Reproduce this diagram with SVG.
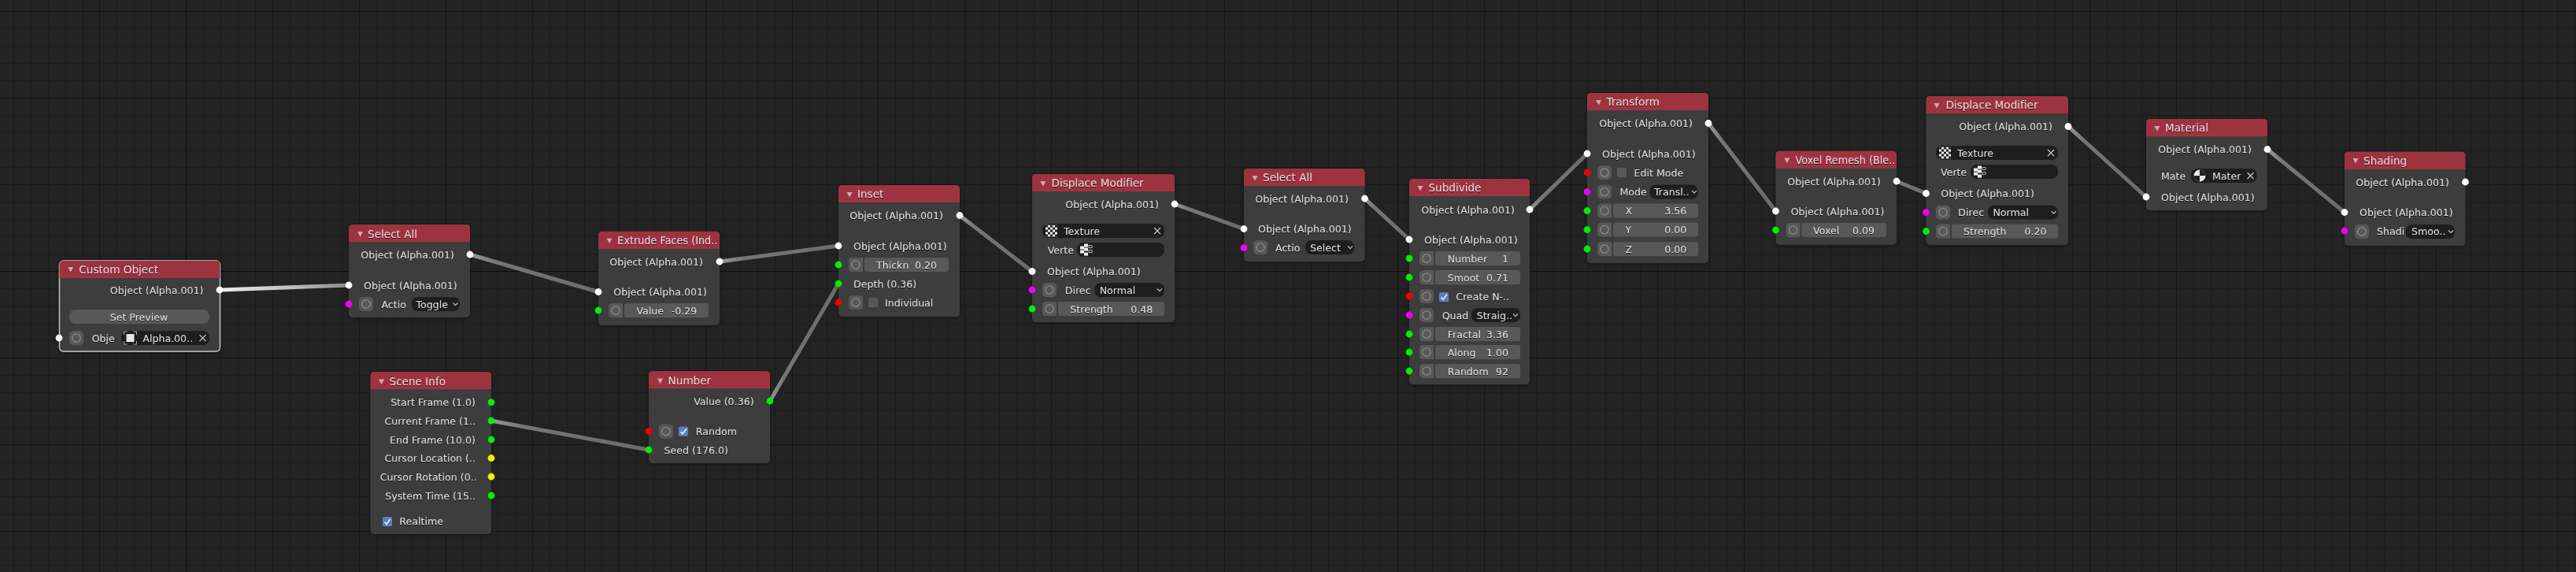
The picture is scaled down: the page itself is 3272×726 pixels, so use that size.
<svg xmlns="http://www.w3.org/2000/svg" width="3272" height="726" viewBox="0 0 3272 726">
<style>
text{font-family:"DejaVu Sans",sans-serif;font-size:12.6px;fill:#d8d8d8}
.t{filter:url(#ts)}
.e{text-anchor:end}
.m{text-anchor:middle}
.ti{font-size:13.6px;fill:#e2d0d2}
.b{fill:#3e3e3e;filter:url(#ns)}
.sel{stroke:#c4c4c4;stroke-width:1.4}
.h{fill:#9e3340}
.f{fill:#585858}
.d{fill:#1e1e1e}
.w{fill:#fff}.g{fill:#00f000}.r{fill:#f00000}.p{fill:#f000f0}.y{fill:#f0f000}
.ch{fill:none;stroke:#c0c0c0;stroke-width:1.1}
.l{fill:none;stroke-width:5;stroke:url(#lg)}
</style>
<defs>
<filter id="ts" x="-10%" y="-30%" width="120%" height="170%"><feDropShadow dx="0" dy="1" stdDeviation="0.7" flood-color="#000" flood-opacity="0.75"/></filter>
<filter id="ns" x="-10%" y="-10%" width="120%" height="120%"><feDropShadow dx="0" dy="1" stdDeviation="2.5" flood-color="#000" flood-opacity="0.45"/></filter>
<filter id="lb" filterUnits="userSpaceOnUse" x="0" y="0" width="3272" height="726"><feGaussianBlur stdDeviation="0.5"/></filter>
<pattern id="va" patternUnits="userSpaceOnUse" x="16" y="0" width="110" height="22"><rect width="1" height="22" fill="#161616"/><path d="M22 0h1v22h-1zM44 0h1v22h-1zM66 0h1v22h-1zM88 0h1v22h-1z" fill="#1c1c1c"/></pattern>
<pattern id="vb" patternUnits="userSpaceOnUse" x="15" y="0" width="110" height="22"><rect width="1" height="22" fill="#161616"/><path d="M22 0h1v22h-1zM44 0h1v22h-1zM66 0h1v22h-1zM88 0h1v22h-1z" fill="#1c1c1c"/></pattern>
<pattern id="vc" patternUnits="userSpaceOnUse" x="14" y="0" width="110" height="22"><rect width="1" height="22" fill="#161616"/><path d="M22 0h1v22h-1zM44 0h1v22h-1zM66 0h1v22h-1zM88 0h1v22h-1z" fill="#1c1c1c"/></pattern>
<pattern id="hm" patternUnits="userSpaceOnUse" x="0" y="14" width="22" height="22"><rect width="22" height="1" fill="#1c1c1c"/></pattern>
<pattern id="ck" patternUnits="userSpaceOnUse" width="6" height="6"><rect width="6" height="6" fill="#eee"/><rect width="3" height="3" fill="#222"/><rect x="3" y="3" width="3" height="3" fill="#222"/></pattern>
<linearGradient id="lg" x1="0" y1="0" x2="1" y2="0"><stop offset="0" stop-color="#989898"/><stop offset="0.2" stop-color="#757575"/><stop offset="1" stop-color="#6c6c6c"/></linearGradient>
<linearGradient id="ls" x1="0" y1="0" x2="1" y2="0"><stop offset="0" stop-color="#eeeeee"/><stop offset="0.6" stop-color="#bcbcbc"/><stop offset="1" stop-color="#858585"/></linearGradient>
<g id="bt"><rect width="18" height="18" rx="5" fill="#585858"/><circle cx="9" cy="9" r="5.2" fill="none" stroke="#808080" stroke-width="1.6"/></g>
<g id="bl"><path d="M18 0H5Q0 0 0 5V13Q0 18 5 18H18z" fill="#585858"/><circle cx="9" cy="9" r="5.2" fill="none" stroke="#808080" stroke-width="1.6"/></g>
<path id="cv" class="ch" d="M-3-1.5 0 1.5 3-1.5"/>
<path id="xx" d="M-4-4 4 4M-4 4 4-4" fill="none" stroke="#c8c8c8" stroke-width="1.2"/>
<path id="tr" d="M-3.5-3H3.5L0 3.6z" fill="#cfa9ae"/>
<g id="cb"><rect width="12" height="12" rx="1.5" fill="#5a7fbd"/><path d="M2.5 6.5 5 9.2 9.8 2.8" fill="none" stroke="#e8e8e8" stroke-width="1.8"/></g>
<rect id="un" width="12" height="12" rx="1.5" fill="#585858"/>
<g id="tx"><rect width="15" height="15" fill="url(#ck)"/></g>
<g id="vg"><rect x="0" y="3" width="5" height="4" fill="#eee"/><rect x="5" y="0" width="5" height="4" fill="#eee"/><rect x="0" y="8" width="5" height="4" fill="#eee"/><rect x="5" y="5" width="5" height="4" fill="#eee"/><rect x="5" y="11" width="5" height="4" fill="#eee"/><rect x="11" y="2" width="4" height="3" fill="none" stroke="#aaa"/><rect x="11" y="8" width="4" height="3" fill="none" stroke="#aaa"/></g>
<g id="ob"><rect x="-5" y="-5" width="10" height="10" fill="#e8e8e8"/><path d="M-8-4V-8H-4M4-8H8V-4M8 4V8H4M-4 8H-8V4" fill="none" stroke="#aaa"/></g>
<g id="ma"><circle r="7.5" fill="#e8e8e8"/><path d="M0-7.5A7.5 7.5 0 0 1 7.5 0H0zM0 0H-7.500A7.5 7.5 0 0 0 0 7.5z" fill="#222"/></g>
</defs>

<g id="grid">
<rect width="3272" height="726" fill="#232323"/>
<path d="M17 0h1v726h-1zM39 0h1v726h-1zM61 0h1v726h-1zM83 0h1v726h-1zM105 0h1v726h-1z" fill="#1c1c1c"/>
<rect x="120" width="980" height="726" fill="url(#va)"/>
<rect x="1100" width="1300" height="726" fill="url(#vb)"/>
<rect x="2400" width="872" height="726" fill="url(#vc)"/>
<rect width="3272" height="704" fill="url(#hm)"/>
<path d="M0 717h3272v1H0z" fill="#1c1c1c"/>
<path d="M0 14h3272v1H0zM0 124h3272v1H0zM0 234h3272v1H0zM0 454h3272v1H0zM0 564h3272v1H0zM0 674h3272v1H0z" fill="#161616"/>
<path d="M236 0h1v726h-1zM0 344h3272v1H0z" fill="#0e0e0e"/>
</g>

<g id="connectors" filter="url(#lb)">
<line x1="279" y1="368" x2="443" y2="362" class="l" style="stroke:url(#ls)"/>
<line x1="597" y1="323" x2="760" y2="370.5" class="l"/>
<line x1="914" y1="332" x2="1065" y2="312" class="l"/>
<line x1="978" y1="509" x2="1065" y2="360" class="l"/>
<line x1="624" y1="534" x2="824" y2="571" class="l"/>
<line x1="1219" y1="273.5" x2="1311" y2="344.5" class="l"/>
<line x1="1492" y1="259" x2="1580" y2="290.5" class="l"/>
<line x1="1733.5" y1="252" x2="1790" y2="304" class="l"/>
<line x1="1943" y1="266" x2="2016" y2="195" class="l"/>
<line x1="2170" y1="156.5" x2="2255.5" y2="268" class="l"/>
<line x1="2409" y1="230" x2="2446.5" y2="245.5" class="l"/>
<line x1="2627" y1="160.5" x2="2726" y2="250" class="l"/>
<line x1="2880" y1="189.5" x2="2978" y2="269.5" class="l"/>
</g>

<g id="custom-object">
<rect class="b sel" x="75.5" y="331" width="204" height="115" rx="5"/>
<path class="h" d="M75.5 353V336q0-5 5-5H274.5q5 0 5 5V353z"/>
<use href="#tr" x="89.7" y="342"/>
<rect class="f" x="88" y="393" width="178" height="18" rx="8"/>
<use href="#bt" x="88" y="420"/>
<rect class="d" x="154" y="420" width="112" height="18" rx="8"/>
<use href="#ob" x="165.5" y="429"/>
<use href="#xx" x="257.5" y="429"/>
<g class="t">
<text class="ti" x="100.3" y="347">Custom Object</text>
<text class="e" x="258.5" y="372.5">Object (Alpha.001)</text>
<text class="m" x="176.5" y="406.5">Set Preview</text>
<text x="116.7" y="433.5">Obje</text>
<text x="181.3" y="433.5">Alpha.00..</text>
</g>
<circle class="w" cx="279" cy="368" r="4.4"/><circle class="w" cx="75" cy="429" r="4.4"/>
</g>

<g id="select-all-1">
<rect class="b" x="443" y="285" width="154" height="118" rx="5"/>
<path class="h" d="M443 307V290q0-5 5-5H592q5 0 5 5V307z"/>
<use href="#tr" x="457.5" y="297"/>
<use href="#bt" x="456" y="377"/>
<rect class="d" x="522.6" y="377" width="61.4" height="18" rx="8"/>
<use href="#cv" x="578.5" y="386"/>
<g class="t">
<text class="ti" x="467" y="301.5">Select All</text>
<text class="e" x="577" y="327.5">Object (Alpha.001)</text>
<text x="462" y="366.5">Object (Alpha.001)</text>
<text x="484.4" y="390.5">Actio</text>
<text x="528.4" y="390.5">Toggle</text>
</g>
<circle class="w" cx="597" cy="323" r="4.4"/><circle class="w" cx="443" cy="362" r="4.4"/><circle class="p" cx="443" cy="386" r="4.4"/>
</g>

<g id="scene-info">
<rect class="b" x="470.6" y="472" width="153.4" height="206" rx="5"/>
<path class="h" d="M470.6 494V477q0-5 5-5H619q5 0 5 5V494z"/>
<use href="#tr" x="484.5" y="484.5"/>
<use href="#cb" x="486" y="656"/>
<g class="t">
<text class="ti" x="494.5" y="488.5">Scene Info</text>
<text class="e" x="604" y="515">Start Frame (1.0)</text>
<text class="e" x="604" y="538.5">Current Frame (1..</text>
<text class="e" x="604" y="562.5">End Frame (10.0)</text>
<text class="e" x="604" y="586">Cursor Location (..</text>
<text class="e" x="605.7" y="609.5">Cursor Rotation (0..</text>
<text class="e" x="604" y="633.5">System Time (15..</text>
<text x="507.3" y="666">Realtime</text>
</g>
<circle class="g" cx="624" cy="510.6" r="4.4"/><circle class="g" cx="624" cy="534" r="4.4"/><circle class="g" cx="624" cy="558" r="4.4"/><circle class="y" cx="624" cy="581.5" r="4.4"/><circle class="y" cx="624" cy="605" r="4.4"/><circle class="g" cx="624" cy="629" r="4.4"/>
</g>

<g id="extrude-faces">
<rect class="b" x="760" y="293.7" width="154" height="119" rx="5"/>
<path class="h" d="M760 316V298.7q0-5 5-5H909q5 0 5 5V316z"/>
<use href="#tr" x="774" y="305.5"/>
<use href="#bl" x="773" y="385"/>
<rect class="f" x="793" y="385" width="107" height="18" rx="3"/>
<g class="t">
<text class="ti" x="784.3" y="309.5" textLength="127" lengthAdjust="spacingAndGlyphs">Extrude Faces (Ind..</text>
<text class="e" x="893" y="336.5">Object (Alpha.001)</text>
<text x="779.3" y="375">Object (Alpha.001)</text>
<text x="808.4" y="398.5">Value</text>
<text class="e" x="885.3" y="398.5">-0.29</text>
</g>
<circle class="w" cx="914" cy="332" r="4.4"/><circle class="w" cx="760" cy="370.5" r="4.4"/><circle class="g" cx="760" cy="394" r="4.4"/>
</g>

<g id="inset">
<rect class="b" x="1065" y="235" width="154" height="167" rx="5"/>
<path class="h" d="M1065 257V240q0-5 5-5H1214q5 0 5 5V257z"/>
<use href="#tr" x="1079" y="247"/>
<use href="#bl" x="1078" y="327"/>
<rect class="f" x="1098" y="327" width="107" height="18" rx="3"/>
<use href="#bt" x="1078" y="375"/>
<use href="#un" x="1103" y="378"/>
<g class="t">
<text class="ti" x="1089" y="251">Inset</text>
<text class="e" x="1198" y="278">Object (Alpha.001)</text>
<text x="1084" y="316.5">Object (Alpha.001)</text>
<text x="1113" y="340.5">Thickn</text>
<text class="e" x="1190" y="340.5">0.20</text>
<text x="1084" y="364.5">Depth (0.36)</text>
<text x="1124" y="388.5">Individual</text>
</g>
<circle class="w" cx="1219" cy="273.5" r="4.4"/><circle class="w" cx="1065" cy="312" r="4.4"/><circle class="g" cx="1065" cy="336" r="4.4"/><circle class="g" cx="1065" cy="360" r="4.4"/><circle class="r" cx="1065" cy="384" r="4.4"/>
</g>

<g id="number">
<rect class="b" x="824" y="471" width="154" height="117" rx="5"/>
<path class="h" d="M824 493V476q0-5 5-5H973q5 0 5 5V493z"/>
<use href="#tr" x="838.6" y="483.5"/>
<use href="#bt" x="837" y="538.5"/>
<use href="#cb" x="862" y="541.5"/>
<g class="t">
<text class="ti" x="848.6" y="487.5">Number</text>
<text class="e" x="957.6" y="513.5">Value (0.36)</text>
<text x="883.8" y="552">Random</text>
<text x="843.6" y="575.5">Seed (176.0)</text>
</g>
<circle class="g" cx="978" cy="509" r="4.4"/><circle class="r" cx="824" cy="547.5" r="4.4"/><circle class="g" cx="824" cy="571" r="4.4"/>
</g>

<g id="displace-modifier-1">
<rect class="b" x="1311" y="221" width="181" height="188" rx="5"/>
<path class="h" d="M1311 243V226q0-5 5-5H1487q5 0 5 5V243z"/>
<use href="#tr" x="1324.8" y="233"/>
<rect class="d" x="1324" y="284" width="155" height="18" rx="8"/>
<use href="#tx" x="1328" y="285.5"/>
<use href="#xx" x="1470" y="293"/>
<rect class="d" x="1368" y="308" width="111" height="18" rx="8"/>
<use href="#vg" x="1372" y="309.5"/>
<use href="#bt" x="1324" y="359"/>
<rect class="d" x="1390" y="359" width="89" height="18" rx="8"/>
<use href="#cv" x="1473" y="368"/>
<use href="#bl" x="1324" y="383"/>
<rect class="f" x="1344" y="383" width="135" height="18" rx="3"/>
<g class="t">
<text class="ti" x="1335.5" y="237">Displace Modifier</text>
<text class="e" x="1472" y="263.5">Object (Alpha.001)</text>
<text x="1351" y="297.5">Texture</text>
<text x="1330.7" y="321.5">Verte</text>
<text x="1330" y="349">Object (Alpha.001)</text>
<text x="1352.7" y="372.5">Direc</text>
<text x="1396.7" y="372.5">Normal</text>
<text x="1359.3" y="396.5">Strength</text>
<text class="e" x="1464.3" y="396.5">0.48</text>
</g>
<circle class="w" cx="1492" cy="259" r="4.4"/><circle class="w" cx="1311" cy="344.5" r="4.4"/><circle class="p" cx="1311" cy="368" r="4.4"/><circle class="g" cx="1311" cy="392" r="4.4"/>
</g>

<g id="select-all-2">
<rect class="b" x="1580" y="214" width="153.5" height="118" rx="5"/>
<path class="h" d="M1580 236V219q0-5 5-5H1728.5q5 0 5 5V236z"/>
<use href="#tr" x="1594" y="226"/>
<use href="#bt" x="1592" y="305"/>
<rect class="d" x="1658" y="305" width="62" height="18" rx="8"/>
<use href="#cv" x="1715" y="314"/>
<g class="t">
<text class="ti" x="1604" y="230">Select All</text>
<text class="e" x="1713" y="256.5">Object (Alpha.001)</text>
<text x="1598" y="295">Object (Alpha.001)</text>
<text x="1620" y="319">Actio</text>
<text x="1664" y="319">Select</text>
</g>
<circle class="w" cx="1733.5" cy="252" r="4.4"/><circle class="w" cx="1580" cy="290.5" r="4.4"/><circle class="p" cx="1580" cy="314.5" r="4.4"/>
</g>

<g id="subdivide">
<rect class="b" x="1790" y="227" width="153" height="261" rx="5"/>
<path class="h" d="M1790 249V232q0-5 5-5H1938q5 0 5 5V249z"/>
<use href="#tr" x="1804" y="239"/>
<use href="#bl" x="1803" y="319"/><rect class="f" x="1823" y="319" width="108" height="18" rx="3"/>
<use href="#bl" x="1803" y="343"/><rect class="f" x="1823" y="343" width="108" height="18" rx="3"/>
<use href="#bt" x="1803" y="367"/><use href="#cb" x="1828" y="371"/>
<use href="#bt" x="1803" y="391"/><rect class="d" x="1869" y="391" width="62" height="18" rx="8"/><use href="#cv" x="1925" y="400"/>
<use href="#bl" x="1803" y="415"/><rect class="f" x="1823" y="415" width="108" height="18" rx="3"/>
<use href="#bl" x="1803" y="438"/><rect class="f" x="1823" y="438" width="108" height="18" rx="3"/>
<use href="#bl" x="1803" y="462"/><rect class="f" x="1823" y="462" width="108" height="18" rx="3"/>
<g class="t">
<text class="ti" x="1814.4" y="243">Subdivide</text>
<text class="e" x="1924" y="270.5">Object (Alpha.001)</text>
<text x="1809" y="308.5">Object (Alpha.001)</text>
<text x="1838.7" y="332.5">Number</text><text class="e" x="1916" y="332.5">1</text>
<text x="1838.7" y="356.5">Smoot</text><text class="e" x="1916" y="356.5">0.71</text>
<text x="1849.3" y="381">Create N-..</text>
<text x="1831.7" y="404.5">Quad</text><text x="1875.7" y="404.5">Straig..</text>
<text x="1838.7" y="428.5">Fractal</text><text class="e" x="1916" y="428.5">3.36</text>
<text x="1838.7" y="451.5">Along</text><text class="e" x="1916" y="451.5">1.00</text>
<text x="1838.7" y="475.5">Random</text><text class="e" x="1916" y="475.5">92</text>
</g>
<circle class="w" cx="1943" cy="266" r="4.4"/><circle class="w" cx="1790" cy="304" r="4.4"/><circle class="g" cx="1790" cy="328" r="4.4"/><circle class="g" cx="1790" cy="352" r="4.4"/><circle class="r" cx="1790" cy="376" r="4.4"/><circle class="p" cx="1790" cy="400" r="4.4"/><circle class="g" cx="1790" cy="424" r="4.4"/><circle class="g" cx="1790" cy="447" r="4.4"/><circle class="g" cx="1790" cy="471" r="4.4"/>
</g>

<g id="transform">
<rect class="b" x="2016" y="118" width="154" height="216" rx="5"/>
<path class="h" d="M2016 140V123q0-5 5-5H2165q5 0 5 5V140z"/>
<use href="#tr" x="2030.6" y="130"/>
<use href="#bt" x="2029" y="210"/><use href="#un" x="2054" y="213"/>
<use href="#bt" x="2029" y="234.5"/><rect class="d" x="2095.5" y="234.5" width="61.2" height="18" rx="8"/><use href="#cv" x="2152" y="243.5"/>
<use href="#bl" x="2029" y="258.5"/><rect class="f" x="2049" y="258.5" width="108" height="18" rx="3"/>
<use href="#bl" x="2029" y="282.5"/><rect class="f" x="2049" y="282.5" width="108" height="18" rx="3"/>
<use href="#bl" x="2029" y="307"/><rect class="f" x="2049" y="307" width="108" height="18" rx="3"/>
<g class="t">
<text class="ti" x="2040.4" y="134">Transform</text>
<text class="e" x="2150" y="161">Object (Alpha.001)</text>
<text x="2035" y="199.5">Object (Alpha.001)</text>
<text x="2075.5" y="223.5">Edit Mode</text>
<text x="2057.5" y="248">Mode</text><text x="2101" y="248">Transl..</text>
<text x="2064.5" y="272">X</text><text class="e" x="2142.4" y="272">3.56</text>
<text x="2064.5" y="296">Y</text><text class="e" x="2142.4" y="296">0.00</text>
<text x="2064.5" y="320.5">Z</text><text class="e" x="2142.4" y="320.5">0.00</text>
</g>
<circle class="w" cx="2170" cy="156.5" r="4.4"/><circle class="w" cx="2016" cy="195" r="4.4"/><circle class="r" cx="2016" cy="219" r="4.4"/><circle class="p" cx="2016" cy="243.5" r="4.4"/><circle class="g" cx="2016" cy="267.5" r="4.4"/><circle class="g" cx="2016" cy="291.5" r="4.4"/><circle class="g" cx="2016" cy="316" r="4.4"/>
</g>

<g id="voxel-remesh">
<rect class="b" x="2255.5" y="191.7" width="153.5" height="119" rx="5"/>
<path class="h" d="M2255.5 213.5V196.7q0-5 5-5H2404q5 0 5 5V213.5z"/>
<use href="#tr" x="2269.8" y="203.5"/>
<use href="#bl" x="2268.6" y="283"/>
<rect class="f" x="2288.6" y="283" width="107.4" height="18" rx="3"/>
<g class="t">
<text class="ti" x="2280.4" y="207.5" textLength="127" lengthAdjust="spacingAndGlyphs">Voxel Remesh (Ble..</text>
<text class="e" x="2389" y="234.5">Object (Alpha.001)</text>
<text x="2274.7" y="272.5">Object (Alpha.001)</text>
<text x="2303" y="296.5">Voxel</text>
<text class="e" x="2381" y="296.5">0.09</text>
</g>
<circle class="w" cx="2409" cy="230" r="4.4"/><circle class="w" cx="2255.5" cy="268" r="4.4"/><circle class="g" cx="2255.5" cy="292" r="4.4"/>
</g>

<g id="displace-modifier-2">
<rect class="b" x="2446.5" y="122" width="180.5" height="189" rx="5"/>
<path class="h" d="M2446.5 144V127q0-5 5-5H2622q5 0 5 5V144z"/>
<use href="#tr" x="2460" y="134"/>
<rect class="d" x="2459" y="185" width="155" height="18" rx="8"/>
<use href="#tx" x="2463" y="186.5"/>
<use href="#xx" x="2605" y="194"/>
<rect class="d" x="2503" y="209" width="111" height="18" rx="8"/>
<use href="#vg" x="2507" y="210.5"/>
<use href="#bt" x="2459" y="260.5"/>
<rect class="d" x="2525" y="260.5" width="89" height="18" rx="8"/>
<use href="#cv" x="2608.6" y="269.5"/>
<use href="#bl" x="2459" y="284.5"/>
<rect class="f" x="2479" y="284.5" width="135" height="18" rx="3"/>
<g class="t">
<text class="ti" x="2471.4" y="138">Displace Modifier</text>
<text class="e" x="2607" y="165">Object (Alpha.001)</text>
<text x="2486" y="198.5">Texture</text>
<text x="2465" y="222.5">Verte</text>
<text x="2465.3" y="250">Object (Alpha.001)</text>
<text x="2487.3" y="274">Direc</text>
<text x="2531.4" y="274">Normal</text>
<text x="2494" y="298">Strength</text>
<text class="e" x="2599.6" y="298">0.20</text>
</g>
<circle class="w" cx="2627" cy="160.5" r="4.4"/><circle class="w" cx="2446.5" cy="245.5" r="4.4"/><circle class="p" cx="2446.5" cy="269.5" r="4.4"/><circle class="g" cx="2446.5" cy="293.5" r="4.4"/>
</g>

<g id="material">
<rect class="b" x="2726" y="151" width="154" height="116" rx="5"/>
<path class="h" d="M2726 173V156q0-5 5-5H2875q5 0 5 5V173z"/>
<use href="#tr" x="2740" y="163"/>
<rect class="d" x="2783" y="214" width="83.6" height="18" rx="8"/>
<use href="#ma" x="2794" y="223"/>
<use href="#xx" x="2858.5" y="223"/>
<g class="t">
<text class="ti" x="2750" y="167">Material</text>
<text class="e" x="2860" y="194">Object (Alpha.001)</text>
<text x="2745" y="227.5">Mate</text>
<text x="2810" y="227.5">Mater</text>
<text x="2745" y="254.5">Object (Alpha.001)</text>
</g>
<circle class="w" cx="2880" cy="189.5" r="4.4"/><circle class="w" cx="2726" cy="250" r="4.4"/>
</g>

<g id="shading">
<rect class="b" x="2978" y="192.7" width="153.5" height="119" rx="5"/>
<path class="h" d="M2978 215V197.7q0-5 5-5H3126.5q5 0 5 5V215z"/>
<use href="#tr" x="2992" y="204"/>
<use href="#bt" x="2991" y="285"/>
<rect class="d" x="3055.6" y="285" width="62.2" height="18" rx="8"/>
<use href="#cv" x="3113" y="294"/>
<g class="t">
<text class="ti" x="3002" y="208.5">Shading</text>
<text class="e" x="3111" y="235.5">Object (Alpha.001)</text>
<text x="2997" y="274">Object (Alpha.001)</text>
<text x="3019" y="298">Shadi</text>
<text x="3063" y="298">Smoo..</text>
</g>
<circle class="w" cx="3131.5" cy="231" r="4.4"/><circle class="w" cx="2978" cy="269.5" r="4.4"/><circle class="p" cx="2978" cy="293" r="4.4"/>
</g>
</svg>
